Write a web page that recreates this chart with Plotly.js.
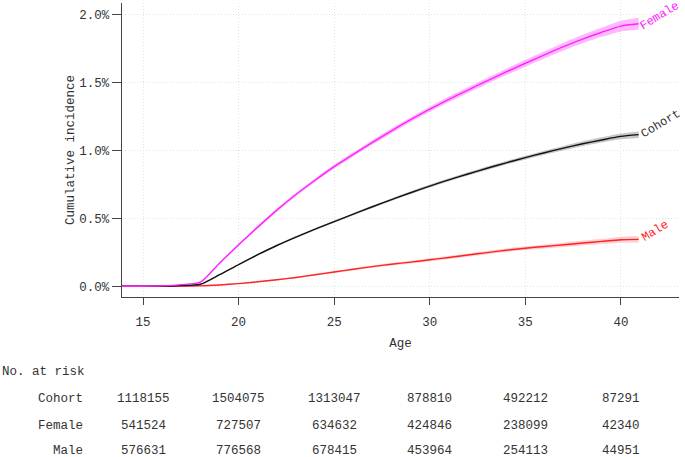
<!DOCTYPE html>
<html>
<head>
<meta charset="utf-8">
<script src="https://cdn.plot.ly/plotly-3.0.1.min.js"></script>
<style>html,body{margin:0;padding:0;background:#fff;}#chart{width:685px;height:457px;}</style>
</head>
<body>
<div id="chart"></div>
<script>
// Age grid (years)
const ages = [13.9, 15, 16, 17, 18, 19, 20, 21, 22, 23, 24, 25, 26, 27, 28, 29, 30, 31, 32, 33, 34, 35, 36, 37, 38, 39, 40, 40.93];

// Cumulative incidence (%)
const femaleInc = [0, 0, 0.003, 0.012, 0.03, 0.17, 0.305, 0.435, 0.56, 0.675, 0.78, 0.88, 0.97, 1.058, 1.143, 1.225, 1.302, 1.375, 1.443, 1.51, 1.576, 1.64, 1.702, 1.762, 1.818, 1.868, 1.913, 1.93];
const cohortInc = [0, 0, 0.001, 0.005, 0.015, 0.085, 0.16, 0.232, 0.30, 0.362, 0.42, 0.475, 0.53, 0.585, 0.637, 0.688, 0.737, 0.783, 0.826, 0.868, 0.908, 0.946, 0.982, 1.016, 1.048, 1.076, 1.102, 1.115];
const maleInc   = [0, 0, 0, 0.001, 0.003, 0.01, 0.02, 0.033, 0.048, 0.065, 0.085, 0.105, 0.125, 0.145, 0.162, 0.178, 0.195, 0.212, 0.23, 0.248, 0.265, 0.28, 0.293, 0.305, 0.318, 0.33, 0.342, 0.345];

// 95% CI half-widths (%)
const femaleCI = [0, 0, 0, 0.001, 0.002, 0.006, 0.008, 0.010, 0.011, 0.012, 0.013, 0.014, 0.015, 0.016, 0.017, 0.018, 0.019, 0.020, 0.021, 0.022, 0.023, 0.025, 0.027, 0.029, 0.031, 0.034, 0.039, 0.044];
const cohortCI = [0, 0, 0, 0.001, 0.001, 0.003, 0.004, 0.005, 0.006, 0.007, 0.007, 0.008, 0.008, 0.009, 0.009, 0.010, 0.011, 0.011, 0.012, 0.013, 0.013, 0.014, 0.015, 0.016, 0.018, 0.019, 0.021, 0.024];
const maleCI   = [0, 0, 0, 0, 0.001, 0.002, 0.003, 0.004, 0.005, 0.006, 0.006, 0.007, 0.008, 0.008, 0.009, 0.010, 0.010, 0.011, 0.012, 0.012, 0.013, 0.014, 0.015, 0.016, 0.018, 0.019, 0.021, 0.024];

// Number at risk table
const riskAges = [15, 20, 25, 30, 35, 40];
const riskLabels = ["Cohort", "Female", "Male"];
const riskCohort = [1118155, 1504075, 1313047, 878810, 492212, 87291];
const riskFemale = [541524, 727507, 634632, 424846, 238099, 42340];
const riskMale   = [576631, 776568, 678415, 453964, 254113, 44951];

// Y-axis ticks
const yTicks = [0, 0.5, 1.0, 1.5, 2.0];
const yTickText = ["0.0%", "0.5%", "1.0%", "1.5%", "2.0%"];

const FONT = "Liberation Mono, Courier New, monospace";
const TXT = "#333333";

function band(vals, ci, color) {
  const lo = vals.map((v, i) => Math.max(0, v - ci[i]));
  const hi = vals.map((v, i) => v + ci[i]);
  return [
    {x: ages, y: lo, mode: "lines", line: {width: 0, color: color, shape: "spline", smoothing: 0.6}, hoverinfo: "skip", showlegend: false},
    {x: ages, y: hi, mode: "lines", line: {width: 0, color: color, shape: "spline", smoothing: 0.6}, fill: "tonexty", fillcolor: color, hoverinfo: "skip", showlegend: false}
  ];
}

const traces = [].concat(
  band(maleInc, maleCI, "rgba(255,40,40,0.22)"),
  band(cohortInc, cohortCI, "rgba(0,0,0,0.22)"),
  band(femaleInc, femaleCI, "rgba(255,0,255,0.27)"),
  [
    {x: ages, y: maleInc, mode: "lines", line: {color: "#ff2222", width: 1.4, shape: "spline", smoothing: 0.6}, name: "Male", showlegend: false},
    {x: ages, y: cohortInc, mode: "lines", line: {color: "#111111", width: 1.4, shape: "spline", smoothing: 0.6}, name: "Cohort", showlegend: false},
    {x: ages, y: femaleInc, mode: "lines", line: {color: "#ff22ff", width: 1.4, shape: "spline", smoothing: 0.6}, name: "Female", showlegend: false}
  ]
);

const last = ages.length - 1;
const annotations = [
  {x: ages[last], y: femaleInc[last], xref: "x", yref: "y", text: "Female", showarrow: false, textangle: -31,
   xanchor: "center", yanchor: "middle", xshift: 21, yshift: 8, font: {family: FONT, size: 12, color: "#ff22ff"}},
  {x: ages[last], y: cohortInc[last], xref: "x", yref: "y", text: "Cohort", showarrow: false, textangle: -31,
   xanchor: "center", yanchor: "middle", xshift: 22, yshift: 11, font: {family: FONT, size: 12, color: "#333333"}},
  {x: ages[last], y: maleInc[last], xref: "x", yref: "y", text: "Male", showarrow: false, textangle: -31,
   xanchor: "center", yanchor: "middle", xshift: 17, yshift: 8, font: {family: FONT, size: 12, color: "#ff2222"}},
  {x: -0.2184, y: 0, xref: "paper", yref: "paper", text: "No. at risk", showarrow: false,
   xanchor: "left", yanchor: "middle", yshift: -75, font: {family: FONT, size: 12.5, color: TXT}}
];
const rows = [riskCohort, riskFemale, riskMale];
const rowShift = [-102, -128.5, -154];
rows.forEach((row, r) => {
  annotations.push({x: -0.067, y: 0, xref: "paper", yref: "paper", text: riskLabels[r], showarrow: false,
    xanchor: "right", yanchor: "middle", yshift: rowShift[r], font: {family: FONT, size: 12.5, color: TXT}});
  row.forEach((v, i) => {
    annotations.push({x: riskAges[i], y: 0, xref: "x", yref: "paper", text: String(v), showarrow: false,
      xanchor: "center", yanchor: "middle", yshift: rowShift[r], font: {family: FONT, size: 12.5, color: TXT}});
  });
});

const layout = {
  width: 685, height: 457,
  margin: {l: 122, r: 6, t: 3, b: 160},
  paper_bgcolor: "#ffffff", plot_bgcolor: "#ffffff",
  showlegend: false,
  font: {family: FONT, size: 12.5, color: TXT},
  xaxis: {
    range: [13.9, 43.04], tickmode: "array", tickvals: riskAges, ticks: "outside", ticklen: 7, tickcolor: "#444",
    showline: true, linecolor: "#444", linewidth: 1.2, zeroline: false,
    showgrid: true, gridcolor: "#e2e2e2", griddash: "1px,2px", gridwidth: 1,
    tickfont: {family: FONT, size: 12.5, color: TXT}, ticklabelstandoff: 6,
    title: {text: "Age", standoff: 9, font: {family: FONT, size: 12.5, color: TXT}},
    automargin: false
  },
  yaxis: {
    range: [-0.0787, 2.083], tickmode: "array", tickvals: yTicks, ticktext: yTickText,
    ticks: "outside", ticklen: 9, tickcolor: "#444",
    showline: true, linecolor: "#444", linewidth: 1.2, zeroline: false,
    showgrid: true, gridcolor: "#e2e2e2", griddash: "1px,2px", gridwidth: 1,
    tickfont: {family: FONT, size: 12.5, color: TXT},
    title: {text: "Cumulative incidence", standoff: 2, font: {family: FONT, size: 12.5, color: TXT}},
    automargin: false
  },
  annotations: annotations
};

Plotly.newPlot("chart", traces, layout, {staticPlot: true, displayModeBar: false});
</script>
</body>
</html>
